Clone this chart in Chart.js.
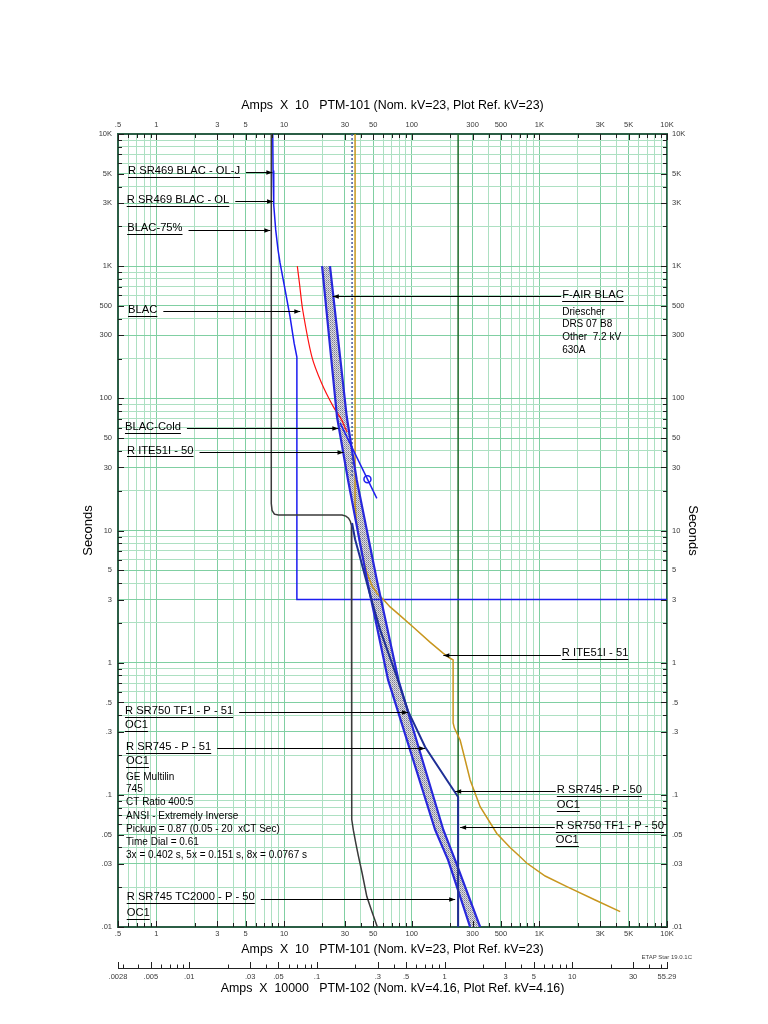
<!DOCTYPE html>
<html><head><meta charset="utf-8">
<script src="https://cdn.jsdelivr.net/npm/chart.js@4/dist/chart.umd.min.js"></script>
<style>html,body{margin:0;padding:0;background:#fff;}canvas{display:block;}</style>
</head><body>
<canvas id="c" width="768" height="1024" style="width:768px;height:1024px"></canvas>
<script>
// ---------- axes ----------
const xRange = [0.5, 10000];          // Amps x 10 @ 23 kV
const tRange = [0.01, 10000];         // seconds
const x2Factor = 10 * (23 / 4.16) / 10000; // PTM-101 (A x10) -> PTM-102 (A x10000)
const xTickValues = [0.5,1,3,5,10,30,50,100,300,500,1000,3000,5000,10000];
const xTickLabels = [".5","1","3","5","10","30","50","100","300","500","1K","3K","5K","10K"];
const tTickValues = [0.01,0.03,0.05,0.1,0.3,0.5,1,3,5,10,30,50,100,300,500,1000,3000,5000,10000];
const tTickLabels = [".01",".03",".05",".1",".3",".5","1","3","5","10","30","50","100","300","500","1K","3K","5K","10K"];
const x2TickValues = [0.0028,0.005,0.01,0.03,0.05,0.1,0.3,0.5,1,3,5,10,30,55.29];
const x2TickLabels = [".0028",".005",".01",".03",".05",".1",".3",".5","1","3","5","10","30","55.29"];
const xTitle = "Amps  X  10   PTM-101 (Nom. kV=23, Plot Ref. kV=23)";
const x2Title = "Amps  X  10000   PTM-102 (Nom. kV=4.16, Plot Ref. kV=4.16)";

// ---------- curves [amps x10, seconds] ----------
const sr469OL = [[8.15,10000],[8.2,5300],[8.3,2900],[8.6,1880],[8.97,1325],[9.3,1057],[10.2,660],[11.15,412],[12.0,260],[12.6,205],[12.6,3],[10000,3]];
const blacHot = [[12.7,1000],[13.2,742],[14.0,466],[16.5,207],[19.7,130],[24.3,86.5],[28.3,68.6],[30.1,59.6],[31.2,55.6]];
const blacStart = [[7.94,10000],[7.94,16],[8.05,14.2],[8.4,13.3],[9.0,13.1],[28.5,13.1],[30.5,12.85],[32.0,12.4],[33.1,11.7],[33.7,10.9],[33.9,10.0],[33.9,0.065],[34.9,0.054],[36.5,0.043],[38.2,0.0345],[40.9,0.0255],[44.5,0.017],[48.9,0.013],[53.8,0.01]];
const fuseMin = [[19.85,1000],[26.0,72.2],[31.7,24.1],[44.7,4.22],[65.3,0.74],[152.6,0.0542],[192.9,0.0321],[286.9,0.01]];
const fuseMax = [[22.9,1000],[31.0,72.2],[37.1,24.1],[53.3,4.22],[78.7,0.74],[177,0.0542],[218.9,0.0321],[343.6,0.01]];
const sr745P51 = [[34.1,11.4],[36.0,8.6],[39.3,6.3],[47.2,3.25],[56.6,1.77],[76.4,0.783],[93.7,0.43],[127.4,0.23],[188.4,0.1295],[231,0.0963],[231,0.01]];
const ite51 = [[36.0,10000],[36.0,16],[36.8,12.0],[38.5,9.0],[41.0,6.5],[44.5,4.8],[49.0,3.8],[53.3,3.37],[60,3.0],[67.7,2.64],[80,2.3],[102.6,1.86],[139,1.43],[176,1.18],[200,1.08],[211,1.05],[211,0.35],[216,0.32],[223,0.30],[239.5,0.26],[260,0.19],[287,0.1295],[343.6,0.0813],[464,0.051],[590,0.040],[707,0.034],[795,0.0305],[1110,0.0243],[1642,0.0202],[2737,0.016],[4297,0.01306]];
const ite50 = [[34.1,10000],[34.1,25]];
const sr750P50 = [[231,10000],[231,0.01]];
const blacCold = [[27.5,65],[53.3,17.5]];
const blacPoint = [[45,24.4]];

// ---------- callouts (anchored in data units) ----------
const callouts = [
  {x:0.6,   t:5277,  to:8.1,   side:'L', lines:[["R SR469 BLAC - OL-J",0,'u']]},
  {x:0.585, t:3167,  to:8.2,   side:'L', lines:[["R SR469 BLAC - OL",0,'u']]},
  {x:0.59,  t:1934,  to:7.8,   side:'L', lines:[["BLAC-75%",0,'u']]},
  {x:0.6,   t:466,   to:13.4,  side:'L', lines:[["BLAC",0,'u']]},
  {x:0.567, t:61.2,  to:26.6,  side:'L', lines:[["BLAC-Cold",0,'u']]},
  {x:0.588, t:40.3,  to:29.2,  side:'L', lines:[["R ITE51I - 50",0,'u']]},
  {x:1509,  t:610,   to:24.1,  side:'R', lines:[["F-AIR BLAC",0,'u'],["Driescher",17.5,'i'],["DRS 07 B8",30,'i'],["Other  7.2 kV",43,'i'],["630A",56,'i']]},
  {x:1500,  t:1.178, to:177,   side:'R', lines:[["R ITE51I - 51",0,'u']]},
  {x:0.567, t:0.433, to:93.7,  side:'L', lines:[["R SR750 TF1 - P - 51",0,'u'],["OC1",14.5,'u']]},
  {x:0.578, t:0.2313,to:127.4, side:'L', lines:[["R SR745 - P - 51",0,'u'],["OC1",14.5,'u'],["GE Multilin",30.5,'i'],["745",43,'i'],["CT Ratio 400:5",56,'i'],["ANSI - Extremely Inverse",69.5,'i'],["Pickup = 0.87 (0.05 - 20  xCT Sec)",82.5,'i'],["Time Dial = 0.61",95.5,'i'],["3x = 0.402 s, 5x = 0.151 s, 8x = 0.0767 s",108.5,'i']]},
  {x:1371,  t:0.1088,to:219,   side:'R', lines:[["R SR745 - P - 50",0,'u'],["OC1",15,'u']]},
  {x:1346,  t:0.0584,to:239.5, side:'R', lines:[["R SR750 TF1 - P - 50",0,'u'],["OC1",14.5,'u']]},
  {x:0.585, t:0.0168,to:219,   side:'L', lines:[["R SR745 TC2000 - P - 50",0,'u'],["OC1",15.4,'u']]}
];

// ---------- helpers ----------
const FAM = "'Liberation Sans', Arial, Helvetica, sans-serif";
Chart.defaults.font.family = FAM;
const frameColor = '#2b5e45';
const gridMajor = '#80cfa2';
const gridMinor = '#ade0c2';
const pts = a => a.map(p => ({x:p[0], y:p[1]}));
const near = (v, L) => Math.abs(Math.log10(v / L)) < 0.01;
const isLab = (v, vals) => vals.some(L => near(v, L));
const labelOf = (v, vals, labs) => { const i = vals.findIndex(L => near(v, L)); return i >= 0 ? labs[i] : ''; };
function logTickList(min, max) {
  const out = [];
  for (let e = Math.floor(Math.log10(min)); e <= Math.ceil(Math.log10(max)); e++)
    for (let m = 1; m <= 9; m++) { const v = m * Math.pow(10, e); if (v >= min*0.999999 && v <= max*1.000001) out.push(v); }
  [min, max].forEach(v => { if (!out.some(o => Math.abs(Math.log10(o / v)) < 1e-4)) out.push(v); });
  return out.sort((a, b) => a - b);
}
function makePattern() {
  const p = document.createElement('canvas'); p.width = 2; p.height = 2;
  const g = p.getContext('2d');
  g.fillStyle = '#dcdce4'; g.fillRect(0,0,2,2);
  g.fillStyle = '#7e7e8e'; g.fillRect(0,0,1,1);
  g.fillStyle = '#a4a4b2'; g.fillRect(1,1,1,1);
  return g.createPattern(p, 'repeat');
}
const bandPoly = fuseMin.concat(fuseMax.slice().reverse());

const tickFont = {size: 7.5};
const tickColor = '#3a3a3a';
const gridCol = vals => c => (c.tick && isLab(c.tick.value, vals)) ? gridMajor : gridMinor;
const buildTicks = s => { s.ticks = logTickList(s.min, s.max).map(v => ({value: v})); };

const line = (data, color, width, extra) => Object.assign({data: pts(data), borderColor: color, borderWidth: width, pointRadius: 0, fill: false, tension: 0}, extra || {});

const overlay = {
  id: 'overlay',
  afterDraw(chart) {
    const {ctx, chartArea: a, scales: s} = chart;
    ctx.save();
    ctx.strokeStyle = '#1e1e1e'; ctx.lineWidth = 1;
    const seg = (x1,y1,x2,y2) => { ctx.beginPath(); ctx.moveTo(x1,y1); ctx.lineTo(x2,y2); ctx.stroke(); };
    s.x.ticks.forEach(t => {
      const px = Math.round(s.x.getPixelForValue(t.value)) + 0.5;
      const L = isLab(t.value, xTickValues) ? 6 : 4;
      seg(px, a.bottom, px, a.bottom - L); seg(px, a.top, px, a.top + L);
    });
    s.y.ticks.forEach(t => {
      const py = Math.round(s.y.getPixelForValue(t.value)) + 0.5;
      const L = isLab(t.value, tTickValues) ? 6 : 4;
      seg(a.left, py, a.left + L, py); seg(a.right, py, a.right - L, py);
    });
    ctx.strokeStyle = '#222';
    s.x2.ticks.forEach(t => {
      const px = Math.round(s.x2.getPixelForValue(t.value)) + 0.5;
      const L = isLab(t.value, x2TickValues) ? 6 : 3.5;
      seg(px, s.x2.top, px, s.x2.top - L);
    });
    ctx.fillStyle = '#444'; ctx.font = '6px ' + FAM; ctx.textAlign = 'right'; ctx.textBaseline = 'middle';
    ctx.fillText('ETAP Star 19.0.1C', s.x2.right + 25, s.x2.top - 11);

    ctx.fillStyle = '#000'; ctx.strokeStyle = '#000'; ctx.textAlign = 'left';
    callouts.forEach(c => {
      const px = s.x.getPixelForValue(c.x), py = s.y.getPixelForValue(c.t);
      c.lines.forEach(([txt, dy, st]) => {
        ctx.font = (st === 'i' ? 10 : 11.2) + 'px ' + FAM;
        ctx.fillText(txt, px, py + dy);
        if (st === 'u') {
          const w = ctx.measureText(txt).width, uy = Math.round(py + dy + 6) + 0.5;
          seg(px, uy, px + w, uy);
        }
      });
      ctx.font = '11.2px ' + FAM;
      const w0 = ctx.measureText(c.lines[0][0]).width;
      const tx = s.x.getPixelForValue(c.to);
      const x0 = c.side === 'L' ? px + w0 + 6 : px - 1;
      const ay = Math.round(py + 1.5) + 0.5;
      seg(x0, ay, tx, ay);
      const dir = tx > x0 ? 1 : -1;
      ctx.beginPath(); ctx.moveTo(tx, ay); ctx.lineTo(tx - dir*6, ay - 2.3); ctx.lineTo(tx - dir*6, ay + 2.3); ctx.closePath(); ctx.fill();
    });
    ctx.restore();
  }
};

new Chart(document.getElementById('c'), {
  type: 'line',
  data: { datasets: [
    {data: pts(blacPoint), showLine: false, pointRadius: 3.5, pointStyle: 'circle', pointBorderColor: '#2020ee', pointBackgroundColor: 'rgba(0,0,0,0)', pointBorderWidth: 1.5, borderColor: '#2020ee'},
    line(blacCold, '#2020ee', 1.5),
    line(sr745P51, '#1f2f96', 2),
    line(fuseMin, '#2828dc', 2.2),
    line(fuseMax, '#2828dc', 2.2),
    line(blacHot, '#ff1010', 1.2, {tension: 0.3}),
    line(ite51, '#c8961e', 1.5),
    line(blacStart, '#3a3a3a', 1.5),
    line(sr469OL, '#1c1cf0', 1.5),
    line(ite50, '#4a5aa0', 1.5, {borderDash: [2, 2]}),
    line(sr750P50, '#1d6b2a', 1.5),
    {data: pts(bandPoly), borderWidth: 0, borderColor: 'rgba(0,0,0,0)', pointRadius: 0, fill: 'shape', backgroundColor: makePattern(), tension: 0}
  ]},
  options: {
    responsive: false, animation: false, devicePixelRatio: 1,
    layout: {padding: {top: 98, bottom: 26, left: 81, right: 68}},
    plugins: {legend: {display: false}, tooltip: {enabled: false}},
    elements: {point: {radius: 0}},
    scales: {
      x: {
        type: 'logarithmic', position: 'bottom', min: xRange[0], max: xRange[1], weight: 0,
        afterBuildTicks: buildTicks, afterFit: s => { s.height = 41; },
        ticks: {font: tickFont, color: tickColor, padding: 2.5, autoSkip: false, maxRotation: 0, minRotation: 0, callback: v => labelOf(v, xTickValues, xTickLabels)},
        grid: {color: gridCol(xTickValues), drawTicks: false, lineWidth: 1},
        border: {color: frameColor, width: 2},
        title: {display: true, text: xTitle, color: '#000', font: {size: 12.4}, padding: {top: 0, bottom: 10.5}}
      },
      x2: {
        type: 'logarithmic', position: 'bottom', min: xRange[0] * x2Factor, max: xRange[1] * x2Factor, weight: 1,
        afterBuildTicks: buildTicks, afterFit: s => { s.height = 30; },
        ticks: {font: tickFont, color: tickColor, padding: 4.5, autoSkip: false, maxRotation: 0, minRotation: 0, callback: v => labelOf(v, x2TickValues, x2TickLabels)},
        grid: {drawOnChartArea: false, drawTicks: false},
        border: {display: true, color: '#222', width: 1},
        title: {display: true, text: x2Title, color: '#000', font: {size: 12.4}, padding: {top: 0, bottom: 1.5}}
      },
      xTop: {
        type: 'logarithmic', position: 'top', min: xRange[0], max: xRange[1],
        afterBuildTicks: buildTicks, afterFit: s => { s.height = 36; },
        ticks: {font: tickFont, color: tickColor, padding: 4.5, autoSkip: false, maxRotation: 0, minRotation: 0, callback: v => labelOf(v, xTickValues, xTickLabels)},
        grid: {drawOnChartArea: false, drawTicks: false},
        border: {color: frameColor, width: 2},
        title: {display: true, text: xTitle, color: '#000', font: {size: 12.4}, padding: {top: 0, bottom: 0}}
      },
      y: {
        type: 'logarithmic', position: 'left', min: tRange[0], max: tRange[1],
        afterBuildTicks: buildTicks, afterFit: s => { s.width = 37; },
        ticks: {font: tickFont, color: tickColor, padding: 6, autoSkip: false, callback: v => labelOf(v, tTickValues, tTickLabels)},
        grid: {color: gridCol(tTickValues), drawTicks: false, lineWidth: 1},
        border: {color: frameColor, width: 2},
        title: {display: true, text: 'Seconds', color: '#000', font: {size: 13}, padding: 0}
      },
      y2: {
        type: 'logarithmic', position: 'right', min: tRange[0], max: tRange[1],
        afterBuildTicks: buildTicks, afterFit: s => { s.width = 33; },
        ticks: {font: tickFont, color: tickColor, padding: 5, autoSkip: false, callback: v => labelOf(v, tTickValues, tTickLabels)},
        grid: {drawOnChartArea: false, drawTicks: false},
        border: {color: frameColor, width: 1.5},
        title: {display: true, text: 'Seconds', color: '#000', font: {size: 13}, padding: 0}
      }
    }
  },
  plugins: [overlay]
});
</script>
</body></html>
